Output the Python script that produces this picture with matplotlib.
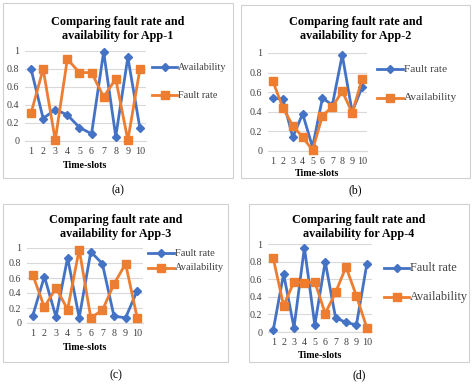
import matplotlib
matplotlib.use("Agg")
import matplotlib.pyplot as plt
from matplotlib.lines import Line2D
from matplotlib.patches import Rectangle

plt.rcParams['font.family'] = ['Liberation Serif', 'DejaVu Serif']

slots = [1, 2, 3, 4, 5, 6, 7, 8, 9, 10]
ytick_vals = [0, 0.2, 0.4, 0.6, 0.8, 1]
ytick_labels = ["0", "0.2", "0.4", "0.6", "0.8", "1"]

app1_availability = [0.80, 0.25, 0.35, 0.29, 0.15, 0.08, 0.99, 0.05, 0.93, 0.14]
app1_fault = [0.31, 0.80, 0.01, 0.91, 0.76, 0.76, 0.49, 0.69, 0.01, 0.80]

app2_fault = [0.54, 0.53, 0.14, 0.38, 0.04, 0.54, 0.47, 0.98, 0.40, 0.65]
app2_availability = [0.71, 0.44, 0.26, 0.14, 0.01, 0.36, 0.45, 0.61, 0.39, 0.73]

app3_fault = [0.10, 0.62, 0.08, 0.87, 0.07, 0.95, 0.79, 0.09, 0.07, 0.43]
app3_availability = [0.64, 0.21, 0.47, 0.18, 0.98, 0.07, 0.17, 0.52, 0.79, 0.07]

app4_fault = [0.02, 0.66, 0.05, 0.96, 0.08, 0.80, 0.16, 0.11, 0.08, 0.77]
app4_availability = [0.84, 0.30, 0.57, 0.56, 0.57, 0.21, 0.45, 0.74, 0.41, 0.05]

BLUE = "#4472C4"
ORANGE = "#ED7D31"
W, H = 474, 385

fig = plt.figure(figsize=(W / 100, H / 100), dpi=100)


def fx(x):
    return x / W


def fy(y):
    return 1 - y / H


def add_box(x0, y0, x1, y1):
    fig.add_artist(Rectangle((fx(x0), fy(y1)), fx(x1 - x0), (y1 - y0) / H,
                             transform=fig.transFigure, fill=False,
                             edgecolor="#d0d0d0", lw=0.8))


def panel(box, axpos, title_y, xl_y, series, legpos, leg_fs, caption):
    add_box(*box)
    left, right, top, bottom = axpos
    ax = fig.add_axes([fx(left), fy(bottom), fx(right - left), (bottom - top) / H])
    for vals, color, marker, ms, label in series:
        ax.plot(slots, vals, color=color, lw=2.0, marker=marker, ms=ms,
                clip_on=False, zorder=3)
    ax.set_xlim(0.5, 10.5)
    ax.set_ylim(0, 1)
    ax.set_xticks(slots)
    ax.set_xticklabels([str(s) for s in slots], fontsize=7.2)
    ax.set_yticks(ytick_vals)
    ax.set_yticklabels(ytick_labels, fontsize=7.2)
    ax.tick_params(length=0, pad=4, colors="#404040")
    ax.grid(axis="y", color="#d9d9d9", lw=0.8)
    ax.set_axisbelow(True)
    for s in ["top", "left", "right"]:
        ax.spines[s].set_visible(False)
    ax.spines["bottom"].set_color("#d9d9d9")
    ax.set_facecolor("none")
    cx = (box[0] + box[2]) / 2
    fig.text(fx(cx), fy(title_y), "Comparing fault rate and\navailability for " + caption[1],
             ha="center", va="center", fontsize=8.7, fontweight="bold",
             linespacing=1.2)
    fig.text(fx((left + right) / 2), fy(xl_y), "Time-slots", ha="center",
             va="center", fontsize=7.2, fontweight="bold")
    lx0, lx1 = legpos[0], legpos[1]
    for (vals, color, marker, ms, label), ly in zip(series, legpos[2:]):
        fig.add_artist(Line2D([fx(lx0), fx((lx0 + lx1) / 2), fx(lx1)],
                              [fy(ly)] * 3, transform=fig.transFigure,
                              color=color, lw=2.0, marker=marker, ms=ms,
                              markevery=[1]))
        fig.text(fx(lx1 + 1), fy(ly), label, ha="left", va="center",
                 fontsize=leg_fs, color="#404040")
    fig.text(fx(cx), fy(caption[2]), caption[0], ha="center", va="center",
             fontsize=8.5)


panel((3, 3, 233, 178), (25, 146, 51, 141), 29, 165,
      [(app1_availability, BLUE, "D", 4.5, "Availability"),
       (app1_fault, ORANGE, "s", 5.5, "Fault rate")],
      (152, 177, 67, 95), 7.4, ("(a)", "App-1", 190))

panel((241, 5, 470, 178), (268, 367, 53, 151), 29, 173,
      [(app2_fault, BLUE, "D", 4.5, "Fault rate"),
       (app2_availability, ORANGE, "s", 5.5, "Availability")],
      (377, 403, 69, 98), 8.2, ("(b)", "App-2", 190))

panel((3, 204, 228, 362), (27, 143, 248, 323), 227, 347,
      [(app3_fault, BLUE, "D", 4.5, "Fault rate"),
       (app3_availability, ORANGE, "s", 5.5, "Availability")],
      (148, 174, 253, 268), 7.5, ("(c)", "App-3", 375))

panel((249, 204, 469, 362), (268, 372, 244, 332), 227, 355,
      [(app4_fault, BLUE, "D", 4.5, "Fault rate"),
       (app4_availability, ORANGE, "s", 5.5, "Availability")],
      (384, 409, 268, 297), 8.8, ("(d)", "App-4", 375))

fig.savefig("out.png", dpi=100)
